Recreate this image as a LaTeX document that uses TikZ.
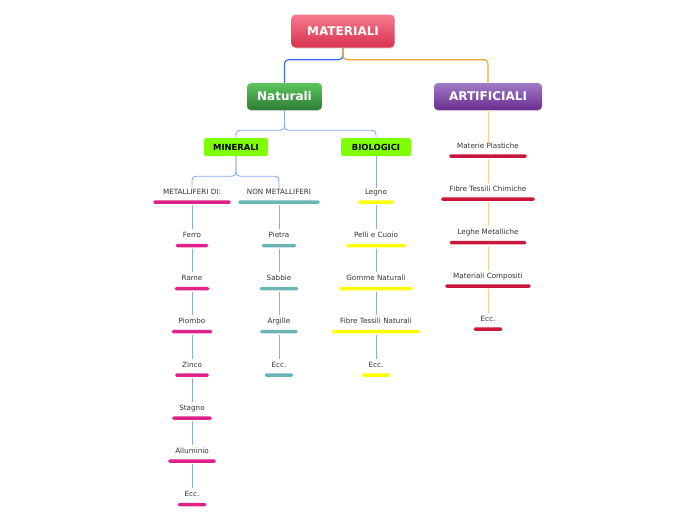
\documentclass[tikz,border=0pt]{standalone}
\usepackage{fontspec}
\setmainfont{DejaVu Sans}
\usetikzlibrary{positioning,shadows}
\definecolor{rosso}{HTML}{D8334F}
\definecolor{rosa}{HTML}{F67A8D}
\definecolor{verdescuro}{HTML}{2E7B34}
\definecolor{verdechiaro}{HTML}{5CC65C}
\definecolor{viola}{HTML}{6A2C91}
\definecolor{lilla}{HTML}{A07CC5}
\definecolor{lime}{HTML}{80FF00}
\definecolor{blu}{HTML}{3B6FF0}
\definecolor{azzurro}{HTML}{88AAF8}
\definecolor{arancio}{HTML}{FFA52E}
\definecolor{pesca}{HTML}{FFCF8A}
\definecolor{magenta}{HTML}{E0218A}
\definecolor{ottanio}{HTML}{6CB5B5}
\definecolor{giallo}{HTML}{FFFF00}
\definecolor{cremisi}{HTML}{C8173A}
\definecolor{grigio}{HTML}{333333}
\tikzset{
  mainbox/.style={rounded corners=4pt, text=white, inner sep=0pt,
    font=\bfseries\fontsize{12}{14}\selectfont,
    drop shadow={opacity=0.25, shadow xshift=0pt, shadow yshift=-1pt}},
  subbox/.style={fill=lime, rounded corners=2pt, inner sep=0pt, minimum height=18pt,
    font=\bfseries\fontsize{8.4}{10}\selectfont},
  topic/.style={font=\fontsize{7.2}{9}\selectfont, text=grigio, inner sep=1pt,
    text height=5.5pt, text depth=1.6pt},
  bar/.style={fill=#1, rounded corners=1.75pt, minimum height=3.5pt, inner sep=0pt},
  link/.style={line width=0.9pt, rounded corners=4pt},
}
\begin{document}
\begin{tikzpicture}[x=1pt, y=-1pt]
\useasboundingbox (0,0) rectangle (696,520);

% livello principale
\node[mainbox, top color=rosa, bottom color=rosso, minimum width=103pt, minimum height=33pt] (mat) at (343,31) {MATERIALI};
\node[mainbox, top color=verdechiaro, bottom color=verdescuro, minimum width=75pt, minimum height=27pt] (nat) at (284.5,96.5) {Naturali};
\node[mainbox, top color=lilla, bottom color=viola, minimum width=108pt, minimum height=27pt] (art) at (488,96.5) {ARTIFICIALI};
\node[subbox, minimum width=64pt] (min) at (236,147) {MINERALI};
\node[subbox, minimum width=70pt] (bio) at (376,147) {BIOLOGICI};

% minerali metalliferi
\node[topic] (met) at (192,192.5) {METALLIFERI DI:};
\node[bar=magenta, minimum width=78pt, below=3pt of met] (metb) {};
\node[topic] (ferro) at (192,236) {Ferro};
\node[bar=magenta, minimum width=33pt, below=3pt of ferro] (ferrob) {};
\node[topic] (rame) at (192,279) {Rame};
\node[bar=magenta, minimum width=35pt, below=3pt of rame] (rameb) {};
\node[topic] (piombo) at (192,322) {Piombo};
\node[bar=magenta, minimum width=41pt, below=3pt of piombo] (piombob) {};
\node[topic] (zinco) at (192,365.5) {Zinco};
\node[bar=magenta, minimum width=34pt, below=3pt of zinco] (zincob) {};
\node[topic] (stagno) at (192,408.5) {Stagno};
\node[bar=magenta, minimum width=40pt, below=3pt of stagno] (stagnob) {};
\node[topic] (allum) at (192,451.5) {Alluminio};
\node[bar=magenta, minimum width=48pt, below=3pt of allum] (allumb) {};
\node[topic] (eccm) at (192,495) {Ecc.};
\node[bar=magenta, minimum width=29pt, below=3pt of eccm] (eccmb) {};

% minerali non metalliferi
\node[topic] (nonmet) at (279,192.5) {NON METALLIFERI};
\node[bar=ottanio, minimum width=82pt, below=3pt of nonmet] (nonmetb) {};
\node[topic] (pietra) at (279,236) {Pietra};
\node[bar=ottanio, minimum width=35pt, below=3pt of pietra] (pietrab) {};
\node[topic] (sabbie) at (279,279) {Sabbie};
\node[bar=ottanio, minimum width=39pt, below=3pt of sabbie] (sabbieb) {};
\node[topic] (argille) at (279,322) {Argille};
\node[bar=ottanio, minimum width=38pt, below=3pt of argille] (argilleb) {};
\node[topic] (eccn) at (279,365.5) {Ecc.};
\node[bar=ottanio, minimum width=29pt, below=3pt of eccn] (eccnb) {};

% biologici
\node[topic] (legno) at (376,192.5) {Legno};
\node[bar=giallo, minimum width=36pt, below=3pt of legno] (legnob) {};
\node[topic] (pelli) at (376,236) {Pelli e Cuoio};
\node[bar=giallo, minimum width=60pt, below=3pt of pelli] (pellib) {};
\node[topic] (gomme) at (376,279) {Gomme Naturali};
\node[bar=giallo, minimum width=74pt, below=3pt of gomme] (gommeb) {};
\node[topic] (fibren) at (376,322) {Fibre Tessili Naturali};
\node[bar=giallo, minimum width=89pt, below=3pt of fibren] (fibrenb) {};
\node[topic] (eccb) at (376,365.5) {Ecc.};
\node[bar=giallo, minimum width=29pt, below=3pt of eccb] (eccbb) {};

% artificiali
\node[topic] (plast) at (488,146.5) {Materie Plastiche};
\node[bar=cremisi, minimum width=78pt, below=3pt of plast] (plastb) {};
\node[topic] (fibrec) at (488,189.5) {Fibre Tessili Chimiche};
\node[bar=cremisi, minimum width=94pt, below=3pt of fibrec] (fibrecb) {};
\node[topic] (leghe) at (488,233) {Leghe Metalliche};
\node[bar=cremisi, minimum width=77pt, below=3pt of leghe] (legheb) {};
\node[topic] (comp) at (488,276.5) {Materiali Compositi};
\node[bar=cremisi, minimum width=86pt, below=3pt of comp] (compb) {};
\node[topic] (ecca) at (488,319.5) {Ecc.};
\node[bar=cremisi, minimum width=29pt, below=3pt of ecca] (eccab) {};

% collegamenti
\draw[link, blu, line width=1.2pt] (mat.south) -- ++(0,12) -| (nat.north);
\draw[link, arancio, line width=1.2pt] (mat.south) -- ++(0,12) -| (art.north);
\draw[link, azzurro] (nat.south) -- ++(0,20) -| (min.north);
\draw[link, azzurro] (nat.south) -- ++(0,20) -| (bio.north);
\draw[link, azzurro] (min.south) -- ++(0,20) -| (met.north);
\draw[link, azzurro] (min.south) -- ++(0,20) -| (nonmet.north);
\draw[link, azzurro] (bio) -- (legno);
\draw[link, pesca] (art) -- (plast);
\draw[link, azzurro, shorten <=1pt, shorten >=2pt] (metb) -- (ferro);
\draw[link, azzurro, shorten <=1pt, shorten >=2pt] (ferrob) -- (rame);
\draw[link, azzurro, shorten <=1pt, shorten >=2pt] (rameb) -- (piombo);
\draw[link, azzurro, shorten <=1pt, shorten >=2pt] (piombob) -- (zinco);
\draw[link, azzurro, shorten <=1pt, shorten >=2pt] (zincob) -- (stagno);
\draw[link, azzurro, shorten <=1pt, shorten >=2pt] (stagnob) -- (allum);
\draw[link, azzurro, shorten <=1pt, shorten >=2pt] (allumb) -- (eccm);
\draw[link, azzurro, shorten <=1pt, shorten >=2pt] (nonmetb) -- (pietra);
\draw[link, azzurro, shorten <=1pt, shorten >=2pt] (pietrab) -- (sabbie);
\draw[link, azzurro, shorten <=1pt, shorten >=2pt] (sabbieb) -- (argille);
\draw[link, azzurro, shorten <=1pt, shorten >=2pt] (argilleb) -- (eccn);
\draw[link, azzurro, shorten <=1pt, shorten >=2pt] (legnob) -- (pelli);
\draw[link, azzurro, shorten <=1pt, shorten >=2pt] (pellib) -- (gomme);
\draw[link, azzurro, shorten <=1pt, shorten >=2pt] (gommeb) -- (fibren);
\draw[link, azzurro, shorten <=1pt, shorten >=2pt] (fibrenb) -- (eccb);
\draw[link, pesca, shorten <=1pt, shorten >=2pt] (plastb) -- (fibrec);
\draw[link, pesca, shorten <=1pt, shorten >=2pt] (fibrecb) -- (leghe);
\draw[link, pesca, shorten <=1pt, shorten >=2pt] (legheb) -- (comp);
\draw[link, pesca, shorten <=1pt, shorten >=2pt] (compb) -- (ecca);
\end{tikzpicture}
\end{document}
